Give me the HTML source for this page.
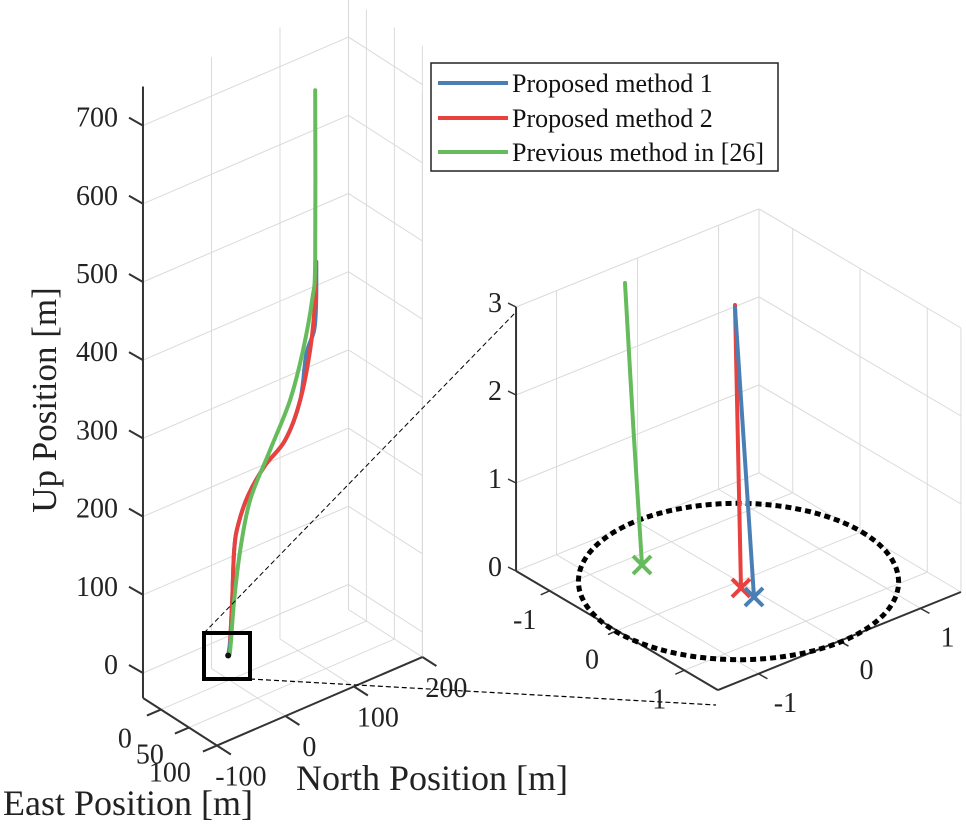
<!DOCTYPE html>
<html><head><meta charset="utf-8"><style>
html,body{margin:0;padding:0;background:#fff;}
svg{display:block;font-family:"Liberation Serif",serif;}
</style></head><body>
<svg id="chart" width="966" height="826" viewBox="0 0 966 826" xmlns="http://www.w3.org/2000/svg">
<g id="main"></g>
<g id="inset"></g>
<g>
  <rect x="431" y="63" width="347" height="108" fill="#fff" stroke="#222" stroke-width="1.5"/>
  <line x1="438" y1="83" x2="508" y2="83" stroke="#4a7fb5" stroke-width="4"/>
  <text x="512" y="92" font-size="26" fill="#111">Proposed method 1</text>
  <line x1="438" y1="118" x2="508" y2="118" stroke="#e8413e" stroke-width="4"/>
  <text x="512" y="127" font-size="26" fill="#111">Proposed method 2</text>
  <line x1="438" y1="152" x2="508" y2="152" stroke="#66bb5c" stroke-width="4"/>
  <text x="512" y="161" font-size="26" fill="#111">Previous method in [26]</text>
</g>
<text x="0" y="0" transform="translate(56,400) rotate(-90)" text-anchor="middle" font-size="35" fill="#222">Up Position [m]</text>
<text x="296" y="790" font-size="36" fill="#222">North Position [m]</text>
<text x="3" y="815" font-size="36" fill="#222">East Position [m]</text>
</svg>
<script>
// ---- main plot data (north [m], east [m], up [m]) ----
const upTicks = [0,100,200,300,400,500,600,700];
const northTicks = [-100,0,100,200];
const eastTicks = [0,50,100];
const greenNorth = [125.3,125.3,120.9,107.7,88.8,59.6,30.4,15.8,7.0,1.2,-1.8];
const greenUp = [675,458,409,350,293,240,187,128,68,6,0];
const redNorth = [126.7,125.3,118,103.4,81.5,52.3,27.4,12.8,7.0,4.1,1.2];
const redUp = [455,407,346,287,244,223,194,162,132,69,19];
const blueNorth = [126.7,126.7,123.8,112.1,103.4,81.5,52.3,27.4,12.8,7.0,4.1,1.2,-1.8];
const blueUp = [455,407,369,342,287,244,223,194,162,132,69,19,0];
// ---- inset data (a, b, up) ----
const insetTicks = [-1,0,1];
const insetUpTicks = [0,1,2,3];
const greenA = [-0.731,-0.62,-0.502];
const greenB = [-0.806,-0.815,-0.829];
const greenU = [3.3,1.6,0];
const redA = [0.1297,-0.0625];
const redB = [-0.208,0.112];
const redU = [3.0,0];
const blueA = [0.0924,-0.079];
const blueB = [-0.163,0.325];
const blueU = [3.0,0];
const circleRadius = 1.52;

const NS='http://www.w3.org/2000/svg';
const N0=-100,N1=200,E0=-32,E1=100,U0=-32,U1=750;
function P(n,e,u){return [229.4+0.685*n+0.56*e, 655-0.295*n+0.36*e-0.782*u];}
function Q(a,b,u){return [738.5+81*a+67.3*b, 581.5-32.7*a+39.7*b-88*u];}
function mk(parent,tag,attrs){const el=document.createElementNS(NS,tag);for(const k in attrs)el.setAttribute(k,attrs[k]);parent.appendChild(el);return el;}
function seg(g,p1,p2,st,w,name){const el=mk(g,'line',{x1:p1[0],y1:p1[1],x2:p2[0],y2:p2[1],stroke:st,'stroke-width':w});


return el;}
function txt(g,x,y,s,anchor,name,size){const el=mk(g,'text',{x:x,y:y,'font-size':size||28,fill:'#222','text-anchor':anchor});el.textContent=s;


return el;}
function smoothD(pts){
  if(pts.length<3)return 'M'+pts.map(p=>p[0].toFixed(1)+','+p[1].toFixed(1)).join(' L');
  let d='M'+pts[0][0].toFixed(1)+','+pts[0][1].toFixed(1);
  for(let i=0;i<pts.length-1;i++){
    const p0=pts[Math.max(0,i-1)],p1=pts[i],p2=pts[i+1],p3=pts[Math.min(pts.length-1,i+2)];
    const c1=[p1[0]+(p2[0]-p0[0])/6,p1[1]+(p2[1]-p0[1])/6];
    const c2=[p2[0]-(p3[0]-p1[0])/6,p2[1]-(p3[1]-p1[1])/6];
    d+=` C${c1[0].toFixed(1)},${c1[1].toFixed(1)} ${c2[0].toFixed(1)},${c2[1].toFixed(1)} ${p2[0].toFixed(1)},${p2[1].toFixed(1)}`;
  }
  return d;
}
function poly(g,pts,st,w,name){const el=mk(g,'path',{d:smoothD(pts),fill:'none',stroke:st,'stroke-width':w,'stroke-linejoin':'round','stroke-linecap':'round'});


return el;}

const gm=document.getElementById('main');
const grid='#dadada';
upTicks.forEach(u=>{
  seg(gm,P(N0,E0,u),P(N1,E0,u),grid,1,'grid-line');
  seg(gm,P(N1,E0,u),P(N1,E1,u),grid,1,'grid-line');
});
northTicks.slice(1).forEach(n=>{
  seg(gm,P(n,E0,U0),P(n,E0,U1),grid,1,'grid-line');
  seg(gm,P(n,E0,U0),P(n,E1,U0),grid,1,'grid-line');
});
eastTicks.forEach(e=>{
  seg(gm,P(N1,e,U0),P(N1,e,U1),grid,1,'grid-line');
  seg(gm,P(N0,e,U0),P(N1,e,U0),grid,1,'grid-line');
});
seg(gm,P(N1,E0,U0),P(N1,E0,U1),grid,1,'grid-line');
seg(gm,P(N1,E1,U0),P(N1,E1,U1-60),grid,1,'grid-line');
seg(gm,P(N0,E0,U0),P(N0,E0,U1),'#333',2,'up-axis');
seg(gm,P(N0,E0,U0),P(N0,E1,U0),'#333',2,'east-axis');
seg(gm,P(N0,E1,U0),P(N1,E1,U0),'#333',2,'north-axis');
upTicks.forEach(u=>{const p=P(N0,E0,u);seg(gm,p,[p[0]-14,p[1]-8],'#333',2,'up-tick');
  txt(gm,p[0]-25,p[1]+1,String(u),'end','up-tick-label');});
northTicks.forEach(n=>{const p=P(n,E1,U0);seg(gm,p,[p[0]+14,p[1]+9],'#333',2,'north-tick');
  txt(gm,p[0]+24,p[1]+40,String(n),'middle','north-tick-label');});
const eOff=[[-36,38],[-39,36],[-47,36]];
eastTicks.forEach((e,i)=>{const p=P(N0,e,U0);seg(gm,p,[p[0]-14,p[1]+6],'#333',2,'east-tick');
  txt(gm,p[0]+eOff[i][0],p[1]+eOff[i][1],String(e),'middle','east-tick-label');});
poly(gm,blueNorth.map((n,i)=>P(n,0,blueUp[i])),'#4a7fb5',4,'trajectory-method1');
poly(gm,redNorth.map((n,i)=>P(n,0,redUp[i])),'#e8413e',4,'trajectory-method2');
poly(gm,greenNorth.map((n,i)=>P(n,0,greenUp[i])),'#66bb5c',4,'trajectory-previous');
const dot=mk(gm,'circle',{cx:P(-1.8,0,0)[0],cy:P(-1.8,0,0)[1],r:3,fill:'#111'});


const box=mk(gm,'rect',{x:204,y:633,width:46,height:46,fill:'none',stroke:'#000','stroke-width':4});


const d1=seg(gm,[204,633],[515,313],'#000',1,'zoom-connector');d1.setAttribute('stroke-dasharray','5 3');
const d2=seg(gm,[250,679],[716,705],'#000',1.2,'zoom-connector');d2.setAttribute('stroke-dasharray','5 3');

const gi=document.getElementById('inset');
const A0=-1.5,A1=1.5,B0=-1.5,B1=1.5,IU0=0,IU1=3;
insetUpTicks.forEach(u=>{
  seg(gi,Q(A0,B0,u),Q(A1,B0,u),grid,1,'inset-grid-line');
  seg(gi,Q(A1,B0,u),Q(A1,B1,u),grid,1,'inset-grid-line');
});
insetTicks.forEach(a=>{
  seg(gi,Q(a,B0,IU0),Q(a,B0,IU1),grid,1,'inset-grid-line');
  seg(gi,Q(a,B0,IU0),Q(a,B1,IU0),grid,1,'inset-grid-line');
});
insetTicks.forEach(b=>{
  seg(gi,Q(A1,b,IU0),Q(A1,b,IU1),grid,1,'inset-grid-line');
  seg(gi,Q(A0,b,IU0),Q(A1,b,IU0),grid,1,'inset-grid-line');
});
seg(gi,Q(A1,B0,IU0),Q(A1,B0,IU1),grid,1,'inset-grid-line');
seg(gi,Q(A1,B1,IU0),Q(A1,B1,IU1),grid,1,'inset-grid-line');
seg(gi,Q(A0,B0,IU0),Q(A0,B0,IU1),'#333',2,'inset-up-axis');
seg(gi,Q(A0,B0,IU0),Q(A0,B1,IU0),'#333',2,'inset-b-axis');
seg(gi,Q(A0,B1,IU0),Q(A1,B1,IU0),'#333',2,'inset-a-axis');
insetUpTicks.forEach(u=>{const p=Q(A0,B0,u);seg(gi,p,[p[0]-8,p[1]-4],'#333',1.5,'inset-up-tick');
  txt(gi,p[0]-14,p[1]+5,String(u),'end','inset-up-tick-label');});
insetTicks.forEach(b=>{const p=Q(A0,b,IU0);seg(gi,p,[p[0]-9,p[1]+4],'#333',1.5,'inset-b-tick');
  txt(gi,p[0]-25,p[1]+38,String(b),'middle','inset-b-tick-label');});
insetTicks.forEach(a=>{const p=Q(a,B1,IU0);seg(gi,p,[p[0]+9,p[1]+5],'#333',1.5,'inset-a-tick');
  txt(gi,p[0]+27,p[1]+38,String(a),'middle','inset-a-tick-label');});
const cpts=[];for(let i=0;i<=120;i++){const t=i/120*2*Math.PI;cpts.push(Q(circleRadius*Math.cos(t),circleRadius*Math.sin(t),0));}
const circ=poly(gi,cpts,'#000',5,'landing-circle');circ.setAttribute('stroke-dasharray','6 4');circ.setAttribute('stroke-linecap','butt');
function traj(as,bs,us,col,name){
  poly(gi,as.map((a,i)=>Q(a,bs[i],us[i])),col,4,name);
  const e=Q(as[as.length-1],bs[bs.length-1],us[us.length-1]);
  const k=mk(gi,'path',{d:`M${e[0]-9},${e[1]-9}L${e[0]+9},${e[1]+9}M${e[0]+9},${e[1]-9}L${e[0]-9},${e[1]+9}`,stroke:col,'stroke-width':4,fill:'none'});
  
  
}
traj(greenA,greenB,greenU,'#66bb5c','inset-trajectory-previous');
traj(redA,redB,redU,'#e8413e','inset-trajectory-method2');
traj(blueA,blueB,blueU,'#4a7fb5','inset-trajectory-method1');
</script>
</body></html>
